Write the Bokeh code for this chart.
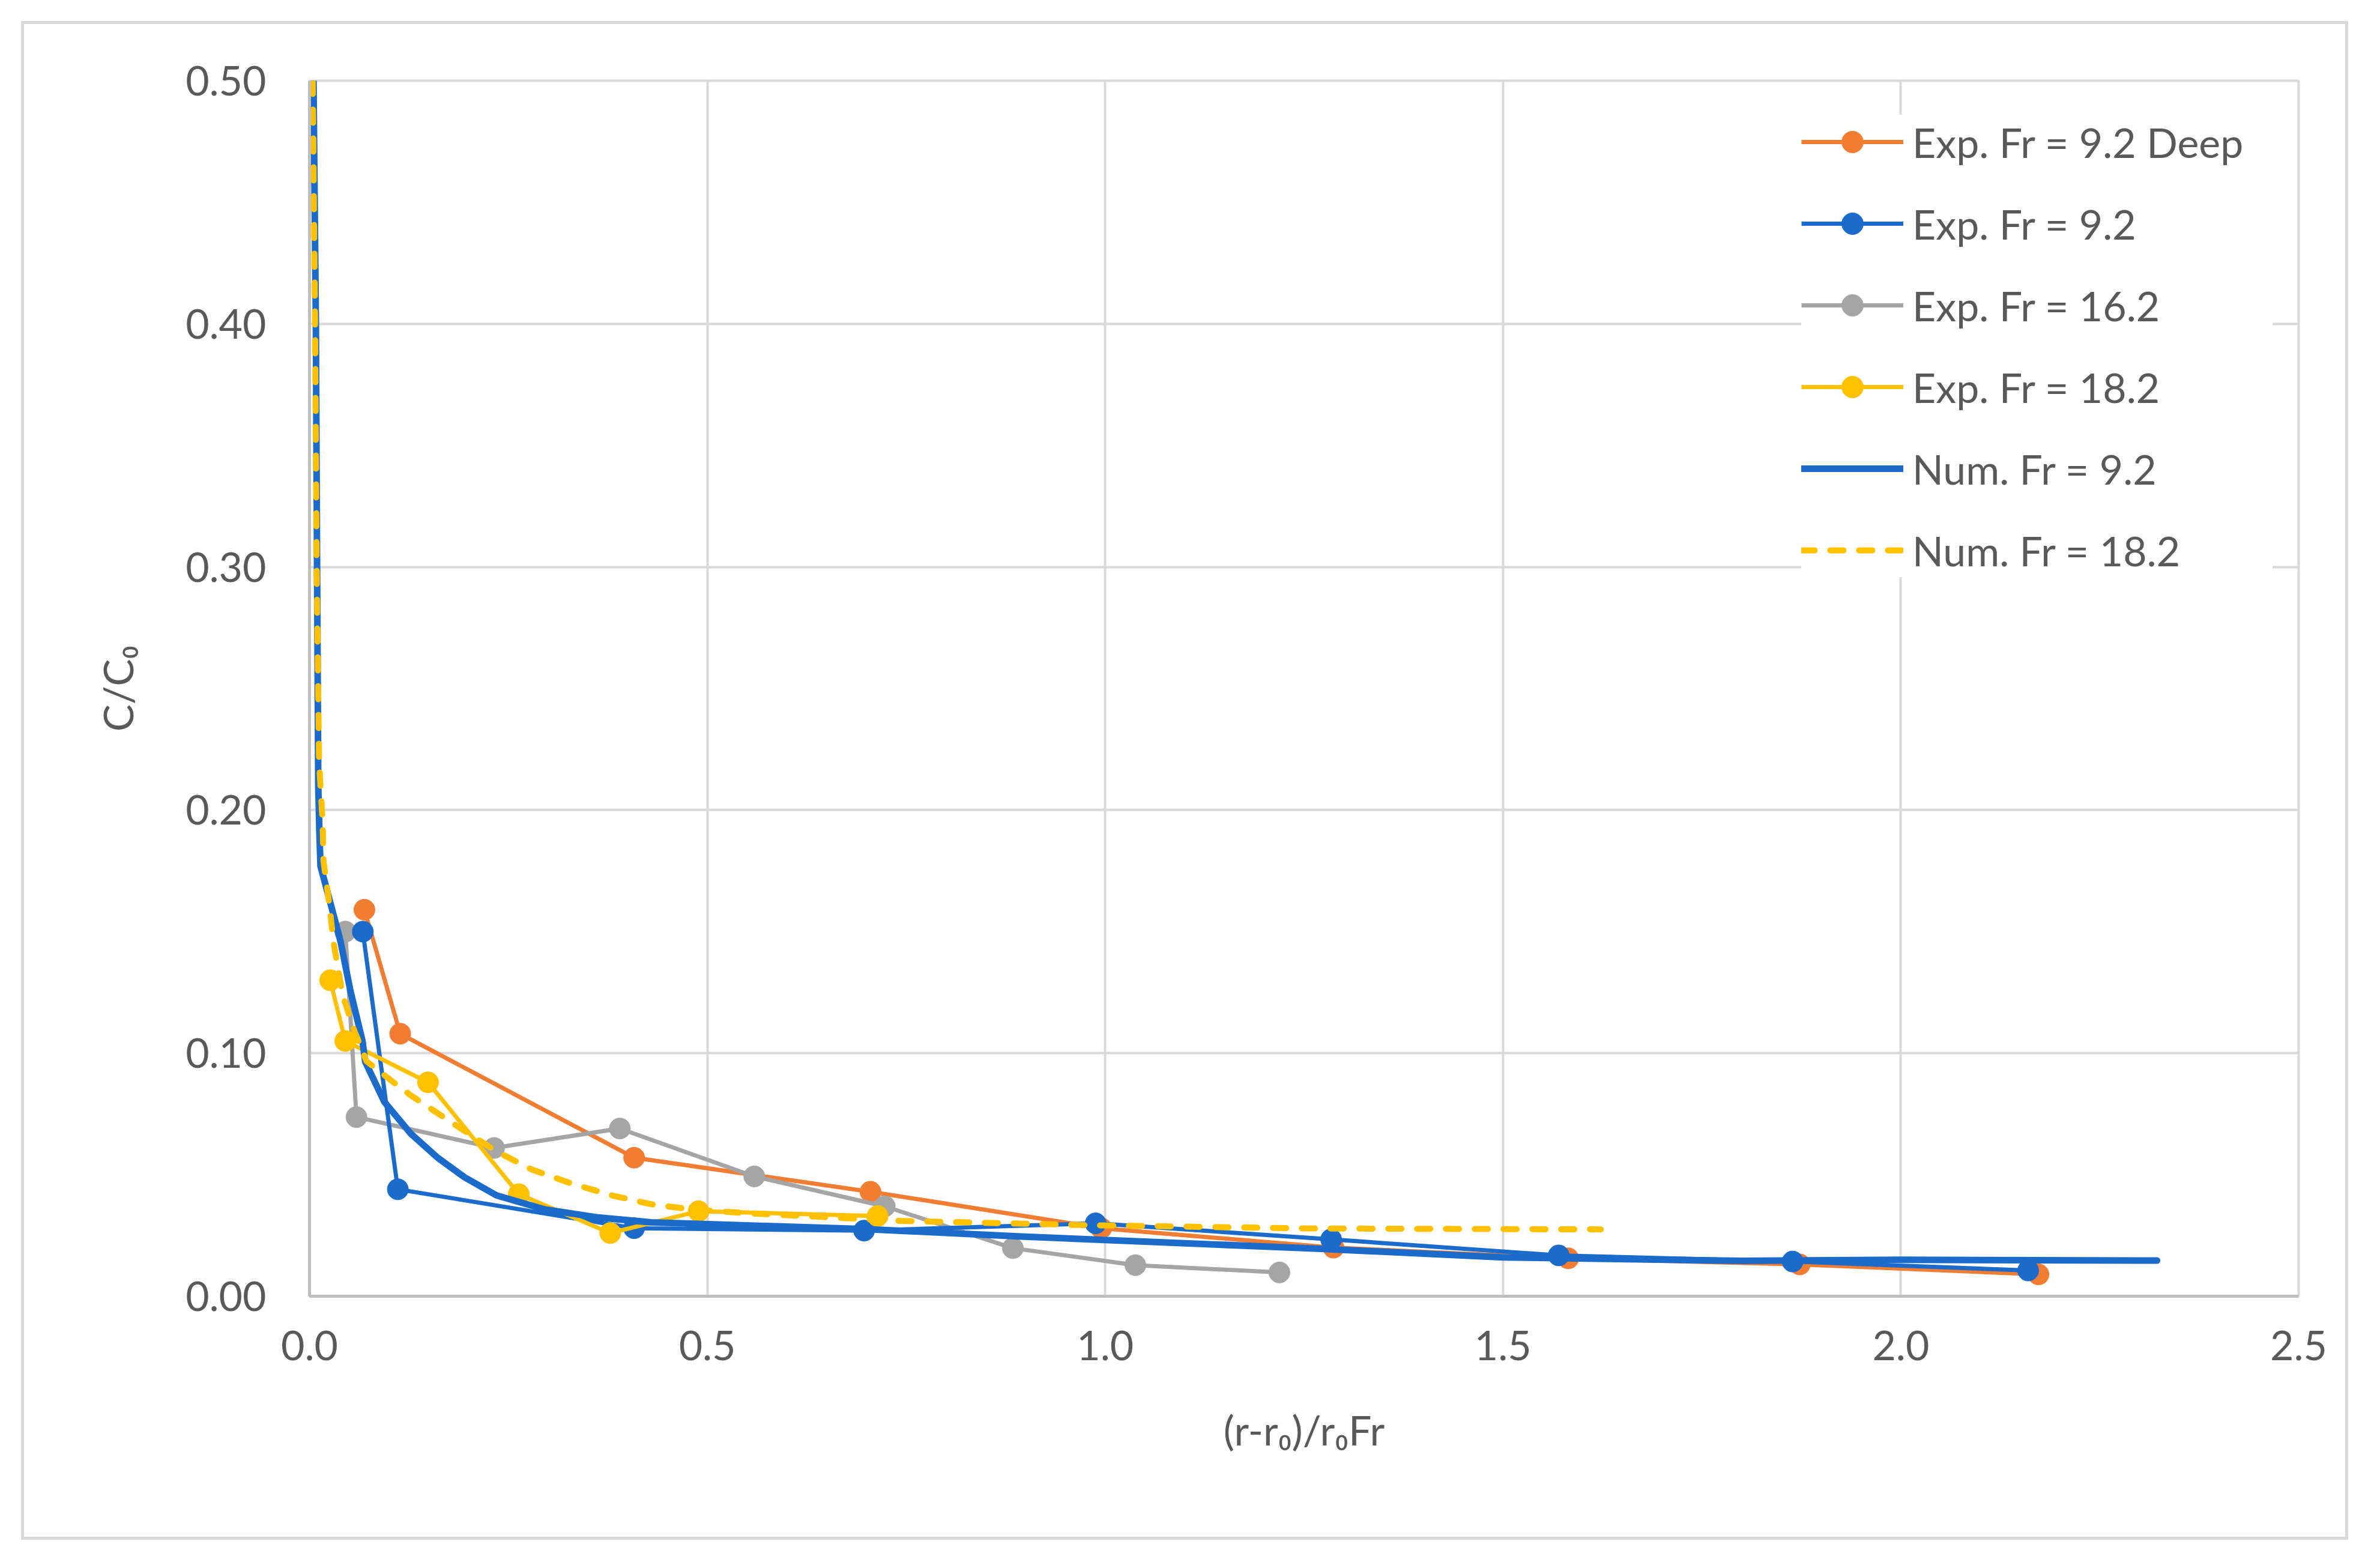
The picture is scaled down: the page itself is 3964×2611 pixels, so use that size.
from bokeh.plotting import figure
from bokeh.models import FixedTicker, PrintfTickFormatter, Legend, LegendItem, Range1d
from bokeh.embed import file_html
from bokeh.resources import INLINE

# ---- data ----
exp_deep_x = [0.069, 0.114, 0.408, 0.705, 0.995, 1.287, 1.582, 1.873, 2.173]
exp_deep_y = [0.159, 0.108, 0.057, 0.043, 0.028, 0.020, 0.0156, 0.0131, 0.009]

exp92_x = [0.067, 0.111, 0.408, 0.697, 0.988, 1.284, 1.570, 1.864, 2.160]
exp92_y = [0.150, 0.044, 0.028, 0.027, 0.030, 0.0234, 0.0168, 0.0143, 0.0106]

exp162_x = [0.045, 0.059, 0.232, 0.390, 0.559, 0.723, 0.884, 1.038, 1.219]
exp162_y = [0.150, 0.0737, 0.061, 0.069, 0.0493, 0.037, 0.0198, 0.0128, 0.0098]

exp182_x = [0.026, 0.045, 0.149, 0.263, 0.378, 0.489, 0.714]
exp182_y = [0.130, 0.105, 0.088, 0.042, 0.026, 0.035, 0.033]

num92_x = [0.005, 0.008, 0.0095, 0.011, 0.0125, 0.0138, 0.0277, 0.039, 0.0515, 0.0666,
           0.070, 0.094, 0.127, 0.161, 0.195, 0.235, 0.296, 0.363, 0.430, 0.554,
           0.700, 0.894, 1.271, 1.500, 1.800, 2.000, 2.322]
num92_y = [0.500, 0.400, 0.300, 0.210, 0.190, 0.177, 0.160, 0.146, 0.1255, 0.105,
           0.0965, 0.080, 0.067, 0.057, 0.0489, 0.0415, 0.0357, 0.0324, 0.0304, 0.0291,
           0.0276, 0.0246, 0.0195, 0.0160, 0.0146, 0.0150, 0.0147]

num182_x = [0.004, 0.007, 0.009, 0.012, 0.0165, 0.0176, 0.025, 0.030, 0.0415, 0.0566,
            0.0717, 0.104, 0.127, 0.161, 0.195, 0.235, 0.279, 0.329, 0.380, 0.430,
            0.481, 0.554, 0.743, 0.988, 1.251, 1.623]
num182_y = [0.500, 0.400, 0.300, 0.220, 0.195, 0.179, 0.161, 0.146, 0.124, 0.109,
            0.0967, 0.0884, 0.0827, 0.0753, 0.068, 0.0596, 0.0522, 0.0464, 0.0415, 0.0378,
            0.0357, 0.0341, 0.031, 0.0292, 0.0279, 0.0275]

x_ticks = [0.0, 0.5, 1.0, 1.5, 2.0, 2.5]
y_ticks = [0.0, 0.1, 0.2, 0.3, 0.4, 0.5]

labels = ["Exp. Fr = 9.2 Deep", "Exp. Fr = 9.2", "Exp. Fr = 16.2",
          "Exp. Fr = 18.2", "Num. Fr = 9.2", "Num. Fr = 18.2"]

ORANGE = "#F07D32"
BLUE = "#1A6BCB"
GRAY = "#A5A5A5"
YELLOW = "#FFC000"
TEXT = "#595959"
FONT = "Lato"
FS = "68px"

p = figure(width=3876, height=2529, output_backend="svg", toolbar_location=None,
           x_range=Range1d(0, 2.5), y_range=Range1d(0, 0.5),
           min_border_left=475, min_border_right=88, min_border_top=94,
           min_border_bottom=411, background_fill_color="white",
           border_fill_color="white")
p.margin = (35, 0, 0, 35)
p.styles = {"border": "5px solid #D9D9D9"}

p.outline_line_color = "#D9D9D9"
p.outline_line_width = 4

p.xaxis.ticker = FixedTicker(ticks=x_ticks)
p.yaxis.ticker = FixedTicker(ticks=y_ticks)
p.xaxis.formatter = PrintfTickFormatter(format="%.1f")
p.yaxis.formatter = PrintfTickFormatter(format="%.2f")
p.xaxis.axis_label = "(r-r\u2080)/r\u2080Fr"
p.yaxis.axis_label = "C/C\u2080"

for ax in p.axis:
    ax.axis_line_color = "#BFBFBF"
    ax.axis_line_width = 5
    ax.major_tick_line_color = None
    ax.minor_tick_line_color = None
    ax.major_tick_out = 0
    ax.major_tick_in = 0
    ax.major_label_text_font = FONT
    ax.major_label_text_font_size = FS
    ax.major_label_text_color = TEXT
    ax.axis_label_text_font = FONT
    ax.axis_label_text_font_size = FS
    ax.axis_label_text_color = TEXT
    ax.axis_label_text_font_style = "normal"

p.xaxis.major_label_standoff = 57
p.xaxis.axis_label_standoff = 72
p.yaxis.major_label_standoff = 72
p.yaxis.axis_label_standoff = 70

p.xgrid.grid_line_color = "#D9D9D9"
p.ygrid.grid_line_color = "#D9D9D9"
p.xgrid.grid_line_width = 4
p.ygrid.grid_line_width = 4

LW = 7
MS = 35

def exp_series(xs, ys, color):
    l = p.line(xs, ys, line_color=color, line_width=LW, line_join="round")
    m = p.scatter(xs, ys, size=MS, fill_color=color, line_color=color, line_width=1)
    return [l, m]

r_deep = exp_series(exp_deep_x, exp_deep_y, ORANGE)
r_162 = exp_series(exp162_x, exp162_y, GRAY)
r_92 = exp_series(exp92_x, exp92_y, BLUE)
r_182 = exp_series(exp182_x, exp182_y, YELLOW)
r_n92 = [p.line(num92_x, num92_y, line_color=BLUE, line_width=11, line_join="round",
                line_cap="round")]
r_n182 = [p.line(num182_x, num182_y, line_color=YELLOW, line_width=10, line_join="round",
                 line_cap="round", line_dash="22 26")]

items = [LegendItem(label=labels[0], renderers=r_deep),
         LegendItem(label=labels[1], renderers=r_92),
         LegendItem(label=labels[2], renderers=r_162),
         LegendItem(label=labels[3], renderers=r_182),
         LegendItem(label=labels[4], renderers=r_n92),
         LegendItem(label=labels[5], renderers=r_n182)]

legend = Legend(items=items, location=(2485, 1197), orientation="vertical",
                glyph_width=170, glyph_height=90, label_height=90, label_width=600,
                spacing=46, padding=28, label_standoff=15, margin=0,
                label_text_font=FONT, label_text_font_size=FS, label_text_color=TEXT,
                border_line_color=None, background_fill_color="white",
                background_fill_alpha=1.0)
p.add_layout(legend)

open("out.html", "w").write(file_html(p, INLINE))
